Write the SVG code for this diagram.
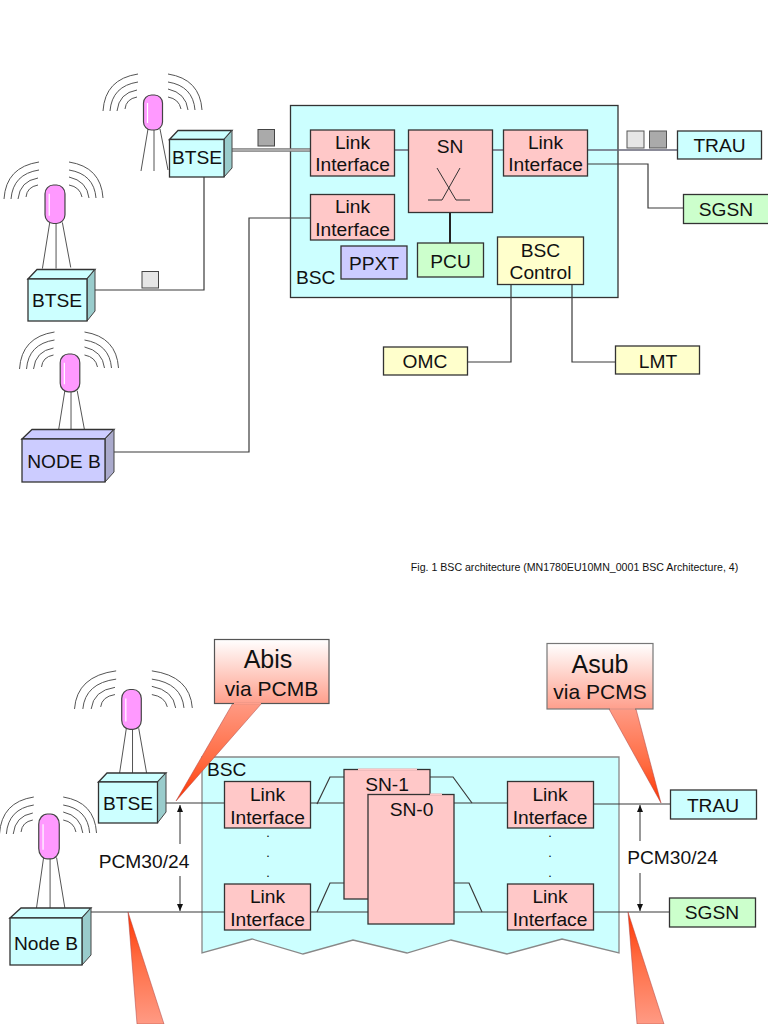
<svg xmlns="http://www.w3.org/2000/svg" width="768" height="1024" viewBox="0 0 768 1024">
<style>
text{font-family:"Liberation Sans",Arial,sans-serif;font-size:19.200px;fill:#111;text-anchor:middle}
.l{text-anchor:start}
.d{font-size:9px;font-weight:bold}
.b{stroke:#333;stroke-width:1.3}
.cy{fill:#ccffff}.pk{fill:#ffc8c8}.gr{fill:#ccffcc}.yl{fill:#ffffcc}.vi{fill:#ccccff}
.sd{fill:#99cccc;stroke:#444;stroke-width:1}
.c{fill:none;stroke:#3a3a3a;stroke-width:1.2}
.g{fill:none;stroke:#667;stroke-width:1.5}
.a{fill:none;stroke:#555;stroke-width:1;vector-effect:non-scaling-stroke}
.t{fill:url(#tail);stroke:#a44;stroke-width:.5}
.tu{fill:url(#tailUp);stroke:#a44;stroke-width:.5}
</style>
<defs>
<linearGradient id="call" x1="0" y1="0" x2="0" y2="1"><stop offset="0" stop-color="#ffffff"/><stop offset="1" stop-color="#ff9f8c"/></linearGradient>
<linearGradient id="tail" x1="0" y1="0" x2="0" y2="1"><stop offset="0" stop-color="#ff9a84"/><stop offset=".6" stop-color="#ff6a40"/><stop offset="1" stop-color="#ff3300"/></linearGradient>
<linearGradient id="tailUp" x1="0" y1="1" x2="0" y2="0"><stop offset="0" stop-color="#ff9a84"/><stop offset=".6" stop-color="#ff6a40"/><stop offset="1" stop-color="#ff3300"/></linearGradient>
<g id="arcs">
<path class="a" d="M-50 16Q-48 -16 -15 -21M-43 16Q-41 -9 -15 -13M-36 16Q-34 -2 -16 -5M-28 14Q-27 4 -16 2"/>
<path class="a" d="M49 15Q47 -16 15 -21M42 15Q40 -9 15 -13M35 15Q33 -2 15 -6M28 14Q26 4 15 2"/>
</g>
<g id="mast">
<path class="a" d="M-5 34L-12 76M1 34V76M7 34L15 75"/>
<rect x="-9.500" y="0" width="19" height="35" rx="8" fill="#ff99ff" stroke="#444" stroke-width="1.200" vector-effect="non-scaling-stroke"/>
<path d="M-5.500 8V28" stroke="#fff" stroke-width="1.200" vector-effect="non-scaling-stroke"/>
</g>
</defs>
<g id="bsc-top"><rect class="cy b" x="290.500" y="105.500" width="327.500" height="192"/><text class="l" x="296" y="284">BSC</text></g>
<g id="bsc-bottom"><path class="cy" stroke="#888" stroke-width="1.300" d="M202 757H619V953L562 939L507 954L451 940L407 953L353 940L303 954L252 939L202 953Z"/><text class="l" x="207" y="776">BSC</text></g>
<g id="connectors">
<path d="M232 150H310" fill="none" stroke="#777" stroke-width="3.500"/>
<path d="M232 150H310" fill="none" stroke="#ddd" stroke-width="1"/>
<path class="c" d="M204 177V290H95"/>
<path class="c" d="M310 218H249V452H114"/>
<path class="g" d="M395 150H408M493 150H503M588 150H677"/>
<path class="c" d="M588 164H648V208H683"/>
<path d="M450 212V243" stroke="#222" stroke-width="2" fill="none"/>
<path class="c" d="M511 284V362H467"/>
<path class="c" d="M572 284V362H615"/>
<path class="c" d="M157 803H224M311 803H344M454 803H507M594 804H670M91 912H224M311 912H368M454 912H507M594 912H669"/>
<path class="c" d="M317 804L330 777H344M430 777H453L472 803M317 912L330 883H344M454 883H469L482 912"/>
<path d="M180 805V844M180 876V911M640 805V841M640 873V911" fill="none" stroke="#333"/>
<path d="M180 805l-3 7h6zM180 911l-3 -7h6zM640 805l-3 7h6zM640 911l-3 -7h6z" fill="#111"/>
</g>
<g id="pkt-1"><rect x="258" y="129.500" width="16.500" height="16.500" fill="#aaa" stroke="#444"/></g>
<g id="pkt-2"><rect x="142" y="271.500" width="16.500" height="16.500" fill="#e6e6e6" stroke="#444"/></g>
<g id="pkt-3"><rect x="627" y="131" width="17" height="17" fill="#e6e6e6" stroke="#555"/></g>
<g id="pkt-4"><rect x="649.500" y="131" width="17" height="17" fill="#aaa" stroke="#555"/></g>
<g id="antenna-1"><use href="#arcs" transform="translate(153 95)"/><use href="#mast" transform="translate(153 95)"/></g>
<g id="antenna-2"><use href="#arcs" transform="translate(54 183)"/><use href="#mast" transform="translate(55 185) scale(1.05 1.1)"/></g>
<g id="antenna-3"><use href="#arcs" transform="translate(69.500 353)"/><use href="#mast" transform="translate(70 354) scale(1.03 1.08)"/></g>
<g id="btse-1"><path class="cy b" d="M169.500 139.500L178 130.500H232L224 139.500Z"/><path class="sd" d="M224 139.500L232 130.500V168L224 177Z"/><rect class="cy b" x="169.500" y="139.500" width="54.500" height="37.500"/><text x="197" y="164">BTSE</text></g>
<g id="btse-2"><path class="cy b" d="M28 279L37 269.500H95L87 279Z"/><path class="sd" d="M87 279L95 269.500V311L87 321Z"/><rect class="cy b" x="28" y="279" width="59" height="42"/><text x="57" y="307">BTSE</text></g>
<g id="node-b-top"><path class="vi b" d="M22 439L32 429.500H114L105 439Z"/><path fill="#aaaacc" stroke="#444" d="M105 439L114 429.500V472L105 482Z"/><rect class="vi b" x="22" y="439" width="83" height="43"/><text x="64" y="468">NODE B</text></g>
<g id="link-1"><rect class="pk b" x="310.500" y="130" width="84" height="46"/><text x="352.500" y="149">Link</text><text x="352.500" y="171">Interface</text></g>
<g id="link-2"><rect class="pk b" x="310.500" y="194.500" width="84" height="45.500"/><text x="352.500" y="213">Link</text><text x="352.500" y="236">Interface</text></g>
<g id="link-3"><rect class="pk b" x="503.500" y="130" width="84" height="46"/><text x="545.500" y="149">Link</text><text x="545.500" y="171">Interface</text></g>
<g id="sn"><rect class="pk b" x="408.500" y="130" width="84" height="82.500"/><text x="450" y="153">SN</text><path d="M428 200H442L460 168M470 200H456L437 168" fill="none" stroke="#333" stroke-width="1"/></g>
<g id="pcu"><rect class="gr b" x="417.500" y="243" width="66" height="34"/><text x="450.500" y="268">PCU</text></g>
<g id="ppxt"><rect class="vi b" x="341" y="246" width="66" height="33"/><text x="374" y="270">PPXT</text></g>
<g id="bsc-control"><rect class="yl b" x="497.500" y="237" width="86" height="47.500"/><text x="540.500" y="257">BSC</text><text x="540.500" y="279">Control</text></g>
<g id="trau-top"><rect class="cy b" x="677.500" y="131" width="84" height="28"/><text x="719.500" y="152">TRAU</text></g>
<g id="sgsn-top"><rect class="gr b" x="683.500" y="194.500" width="86" height="29"/><text x="726" y="216">SGSN</text></g>
<g id="omc"><rect class="yl b" x="383.500" y="347" width="84" height="28"/><text x="425" y="368">OMC</text></g>
<g id="lmt"><rect class="yl b" x="615.500" y="346" width="84" height="28"/><text x="658" y="368">LMT</text></g>
<text id="caption" x="574.500" y="571" style="font-size:10.600px">Fig. 1 BSC architecture (MN1780EU10MN_0001 BSC Architecture, 4)</text>
<text id="pcm-left" x="144" y="868">PCM30/24</text>
<text id="pcm-right" x="672.500" y="864">PCM30/24</text>
<g id="antenna-4"><use href="#arcs" transform="translate(134 692.500) scale(1.19 1.03)"/><use href="#mast" transform="translate(131.500 689.500) scale(1.03 1.14)"/></g>
<g id="antenna-5"><use href="#arcs" transform="translate(48.500 818) scale(.98 1)"/><use href="#mast" transform="translate(49 814) scale(1.08 1.28)"/></g>
<g id="btse-3"><path class="cy b" d="M98.500 782L107 773H166L157.500 782Z"/><path class="sd" d="M157.500 782L166 773V812L157.500 823Z"/><rect class="cy b" x="98.500" y="782" width="59" height="41"/><text x="128" y="810">BTSE</text></g>
<g id="node-b"><path class="cy b" d="M10 918L21 908H91L82 918Z"/><path class="sd" d="M82 918L91 908V955L82 965Z"/><rect class="cy b" x="10" y="918" width="72" height="47"/><text x="46" y="950">Node B</text></g>
<g id="link-4"><rect class="pk b" x="224.500" y="781.500" width="86" height="46.500"/><text x="267.500" y="801">Link</text><text x="267.500" y="824">Interface</text></g>
<g id="link-5"><rect class="pk b" x="224.500" y="884" width="86" height="46"/><text x="267.500" y="903">Link</text><text x="267.500" y="926">Interface</text></g>
<g id="link-6"><rect class="pk b" x="507.500" y="781.500" width="86" height="46.500"/><text x="550" y="801">Link</text><text x="550" y="824">Interface</text></g>
<g id="link-7"><rect class="pk b" x="507.500" y="884" width="86" height="46"/><text x="550" y="903">Link</text><text x="550" y="926">Interface</text></g>
<g id="dots-left"><text class="d" x="268" y="837">.</text><text class="d" x="268" y="857">.</text><text class="d" x="268" y="877">.</text></g>
<g id="dots-right"><text class="d" x="550" y="837">.</text><text class="d" x="550" y="857">.</text><text class="d" x="550" y="877">.</text></g>
<g id="sn-1"><rect class="pk b" x="344" y="769.500" width="86" height="129.500"/><path d="M358 769.500H417" stroke="#ffc8c8" stroke-width="2"/><text x="387" y="791">SN-1</text></g>
<g id="sn-0"><rect class="pk b" x="368" y="794.500" width="86" height="129.500"/><path d="M430 794.500H442" stroke="#ffc8c8" stroke-width="2"/><text x="411.500" y="816">SN-0</text></g>
<g id="trau"><rect class="cy b" x="670.500" y="790" width="86" height="29"/><text x="713" y="812">TRAU</text></g>
<g id="sgsn"><rect class="gr b" x="669.500" y="898" width="86" height="29"/><text x="712" y="919">SGSN</text></g>
<g id="callout-abis"><path class="t" d="M233 703H262L176 801Z"/><rect x="214.500" y="639.500" width="114.500" height="64" fill="url(#call)" stroke="#555" stroke-width="1.200"/><path d="M234 703.500H261" stroke="#ff9f8c" stroke-width="1.600"/><text x="268" y="668" style="font-size:25px">Abis</text><text x="271.500" y="696" style="font-size:21px">via PCMB</text></g>
<g id="callout-asub"><path class="t" d="M609 709H636L661 803Z"/><rect x="547" y="643.500" width="106" height="65.500" fill="url(#call)" stroke="#777" stroke-width="1.200"/><path d="M610 709H635" stroke="#ff9f8c" stroke-width="1.600"/><text x="600" y="673" style="font-size:25px">Asub</text><text x="600" y="699" style="font-size:21px">via PCMS</text></g>
<g id="tail-left"><path class="tu" d="M128 912L137 1024H164Z"/></g>
<g id="tail-right"><path class="tu" d="M628 912L637 1024H664Z"/></g>
</svg>
